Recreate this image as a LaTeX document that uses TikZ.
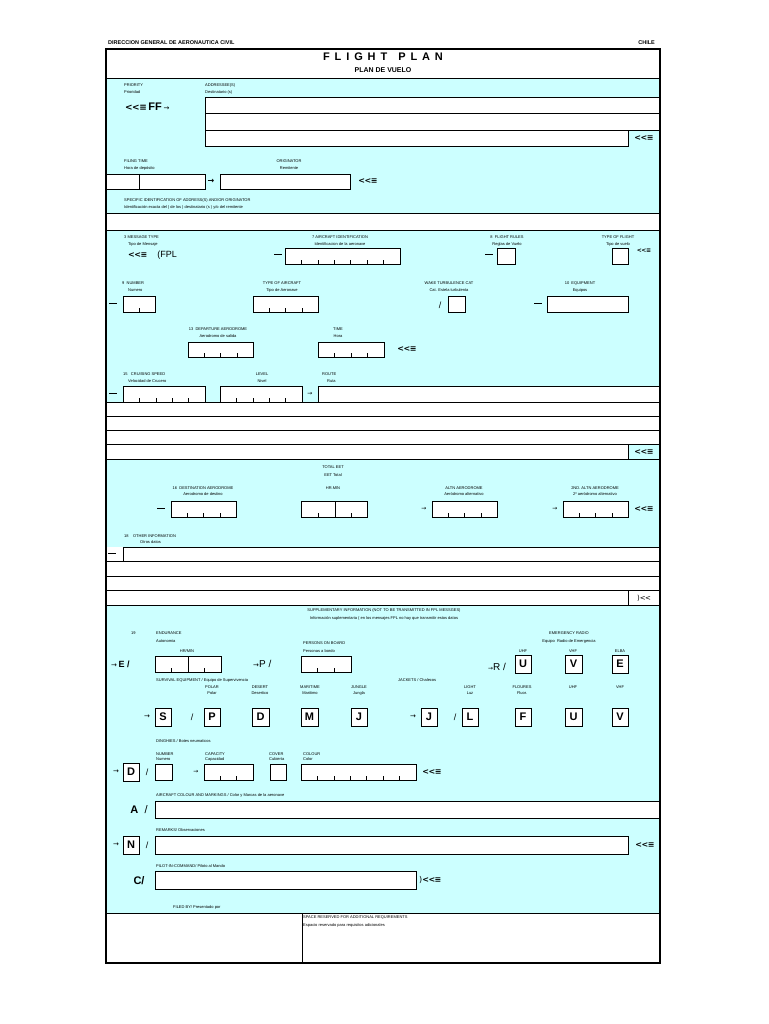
\documentclass[tikz,border=0pt]{standalone}
\usepackage{fontspec}
\setmainfont{Liberation Sans}
\newfontfamily\symf{DejaVu Sans}
\definecolor{cy}{HTML}{CCFFFF}
\tikzset{
 lab/.style={inner sep=0pt,font=\fontsize{4.6}{5}\selectfont},
 sub/.style={inner sep=0pt,font=\fontsize{4}{5}\selectfont},
 big/.style={inner sep=0pt,font=\fontsize{11}{12}\selectfont\bfseries},
 mid/.style={inner sep=0pt,font=\fontsize{9}{10}\selectfont},
 sym/.style={inner sep=0pt,font=\symf\fontsize{8}{9}\selectfont\bfseries},
 wbox/.style={draw,fill=white,line width=0.7pt},
}
\newcommand\ebox[5]{\draw[wbox] (#1,#2) rectangle (#3,#4);
 \ifnum#5>1 \foreach \i in {2,...,#5}{\draw[line width=0.5pt] ({#1+(#3-#1)*(\i-1)/#5},#4) -- ++(0,-4);}\fi}
\newcommand\lbox[5]{\draw[wbox] (#1,#2) rectangle (#3,#4);
 \node[big] at ({(#1+#3)/2},{(#2+#4)/2}) {#5};}
\newcommand\rt{{\symf\bfseries <\kern-0.5pt<\kern-0.5pt≡}}
\newcommand\dsh{\rule[2.5pt]{8pt}{1pt}}
\begin{document}
\begin{tikzpicture}[x=1pt,y=-1pt]
\useasboundingbox (0,0) rectangle (768,1024);
\fill[white] (0,0) rectangle (768,1024);
% backgrounds
\fill[cy] (106,78) rectangle (660,213);
\fill[cy] (106,230) rectangle (660,402);
\fill[cy] (628,444) rectangle (660,459);
\fill[cy] (106,459) rectangle (660,547);
\fill[cy] (106,605) rectangle (660,913);
% header
\node[lab,anchor=west,font=\fontsize{5.5}{6}\selectfont\bfseries] (hd) at (108,43) {DIRECCION GENERAL DE AERONAUTICA CIVIL};
\node[lab,anchor=east,font=\fontsize{5.5}{6}\selectfont\bfseries] (ch) at (655,43) {CHILE};
\node[inner sep=0pt,font=\fontsize{11}{12}\selectfont\bfseries] (t1) at (383,57) {F\ \,L\ \,I\ \,G\ \,H\ \,T\quad P\ \,L\ \,A\ \,N};
\node[inner sep=0pt,font=\fontsize{7}{8}\selectfont\bfseries] (t2) at (383,70) {PLAN DE VUELO};
% horizontal separators
\draw[line width=0.9pt] (106,78) -- (660,78);
\draw[line width=0.9pt] (106,213) -- (660,213) (106,230) -- (660,230);
\draw[line width=0.9pt] (106,459) -- (660,459);
\draw[line width=0.9pt] (106,605) -- (660,605);
\draw[line width=0.9pt] (106,913) -- (660,913);
\draw[line width=0.9pt] (302,913) -- (302,963);
% Section 1
\node[sub,anchor=west] at (124,85) {PRIORITY};
\node[sub,anchor=west] at (124,92) {Prioridad};
\node[anchor=west,inner sep=0pt] at (125,107) {{\fontsize{9}{10}\selectfont\rt}\,{\fontsize{11}{12}\selectfont\bfseries FF}\,{\symf\fontsize{7}{8}\selectfont →}};
\node[sub,anchor=west] at (205,85) {ADDRESSEE(S)};
\node[sub,anchor=west] at (205,92) {Destinatario (s)};
\draw[wbox] (205,97) rectangle (660,113);
\draw[wbox] (205,113) rectangle (660,130);
\draw[wbox] (205,130) rectangle (628,146);
\node[sym] at (644,138) {\rt};
\node[sub,anchor=west] at (124,161) {FILING TIME};
\node[sub,anchor=west] at (124,168) {Hora de depósito};
\draw[wbox] (106,174) rectangle (205,189);
\draw[line width=0.7pt] (139,174) -- (139,189);
\node[sym] at (211,181) {→};
\node[sub] at (289,161) {ORIGINATOR};
\node[sub] at (289,168) {Remitente};
\draw[wbox] (220,174) rectangle (350,189);
\node[sym] at (368,181) {\rt};
\node[sub,anchor=west] at (124,200) {SPECIFIC IDENTIFICATION OF ADDRESS(S) AND/OR ORIGINATOR};
\node[sub,anchor=west] at (124,207) {Identificación exacta del ( de los ) destinatario (s ) y/o del remitente};
% Section 2
\node[sub,anchor=west] at (124,237) {3 MESSAGE TYPE};
\node[sub,anchor=west] at (128,244) {Tipo de Mensaje};
\node[anchor=west,inner sep=0pt] at (128,255) {{\fontsize{8}{9}\selectfont\rt}\quad{\fontsize{9}{10}\selectfont (FPL}};
\node[sub] at (340,237) {7 AIRCRAFT IDENTIFICATION};
\node[sub] at (340,244) {Identificacion de la aeronave};
\node[mid] at (278,256) {\dsh};
\ebox{285}{248}{400}{264}{7}
\node[sub] at (507,237) {8\ \ FLIGHT RULES};
\node[sub] at (507,244) {Reglas de Vuelo};
\node[mid] at (489,256) {\dsh};
\ebox{497}{248}{515}{264}{1}
\node[sub] at (618,237) {TYPE OF FLIGHT};
\node[sub] at (618,244) {Tipo de vuelo};
\ebox{612}{248}{628}{264}{1}
\node[sym,font=\symf\fontsize{6}{7}\selectfont] at (644,251) {\rt};
\node[sub,anchor=west] at (122,283) {9\ \ NUMBER};
\node[sub,anchor=west] at (128,290) {Numero};
\node[mid] at (113,305) {\dsh};
\ebox{123}{296}{155}{312}{2}
\node[sub] at (282,283) {TYPE OF AIRCRAFT};
\node[sub] at (282,290) {Tipo de Aeronave};
\ebox{253}{296}{318}{312}{4}
\node[sub] at (449,283) {WAKE TURBULENCE CAT};
\node[sub] at (449,290) {Cat. Estela turbulenta};
\node[mid] at (440,305) {/};
\ebox{448}{296}{465}{312}{1}
\node[sub] at (580,283) {10\ \ EQUIPMENT};
\node[sub] at (580,290) {Equipos};
\node[mid] at (538,305) {\dsh};
\ebox{547}{296}{628}{312}{1}
\node[sub] at (218,329) {13\ \ DEPARTURE AERODROME};
\node[sub] at (218,336) {Aerodromo de salida};
\ebox{188}{342}{253}{357}{4}
\node[sub] at (338,329) {TIME};
\node[sub] at (338,336) {Hora};
\ebox{318}{342}{384}{357}{4}
\node[sym] at (407,349) {\rt};
\node[sub,anchor=west] at (123,374) {15\ \ \ CRUISING SPEED};
\node[sub,anchor=west] at (128,381) {Velocidad de Crucero};
\node[sub] at (262,374) {LEVEL};
\node[sub] at (262,381) {Nivel};
\node[sub,anchor=west] at (322,374) {ROUTE};
\node[sub,anchor=west] at (327,381) {Ruta};
\node[mid] at (113,395) {\dsh};
\ebox{123}{386}{205}{402}{5}
\ebox{220}{386}{302}{402}{5}
\node[sym,font=\symf\fontsize{6}{7}\selectfont] at (310,394) {→};
\draw[wbox] (318,386) rectangle (660,402);
\draw[wbox] (106,402) rectangle (660,416);
\draw[wbox] (106,416) rectangle (660,430);
\draw[wbox] (106,430) rectangle (660,444);
\draw[wbox] (106,444) rectangle (628,459);
\node[sym] at (644,452) {\rt};
% Section 3
\node[sub] at (333,467) {TOTAL EET};
\node[sub] at (333,475) {EET Total};
\node[sub] at (203,488) {16\ \ DESTINATION AERODROME};
\node[sub] at (203,494) {Aerodromo de destino};
\node[mid] at (161,510) {\dsh};
\ebox{171}{501}{236}{517}{4}
\node[sub] at (333,488) {HR.MIN};
\ebox{301}{501}{335}{517}{2}
\ebox{335}{501}{367}{517}{2}
\node[sub] at (464,488) {ALTN AERODROME};
\node[sub] at (464,494) {Aeródromo alternativo};
\node[sym,font=\symf\fontsize{6}{7}\selectfont] at (424,509) {→};
\ebox{432}{501}{497}{517}{4}
\node[sub] at (595,488) {2ND. ALTN AERODROME};
\node[sub] at (595,494) {2º aeródromo alternativo};
\node[sym,font=\symf\fontsize{6}{7}\selectfont] at (555,509) {→};
\ebox{563}{501}{628}{517}{4}
\node[sym] at (644,509) {\rt};
\node[sub,anchor=west] at (124,536) {18\ \ \ \ OTHER INFORMATION};
\node[sub,anchor=west] at (140,542) {Otros datos};
\node[mid] at (112,555) {\dsh};
\draw[wbox] (123,547) rectangle (660,561);
\draw[wbox] (106,561) rectangle (660,576);
\draw[wbox] (106,576) rectangle (660,590);
\draw[wbox] (106,590) rectangle (660,605);
\draw[line width=0.7pt] (628,590) -- (628,605);
\node[inner sep=0pt,font=\symf\fontsize{7}{8}\selectfont] at (644,598) {)<\kern-0.5pt<};
% Section 4
\node[sub] at (384,610) {SUPPLEMENTARY INFORMATION (NOT TO BE TRANSMITTED IN FPL MESSGES)};
\node[sub] at (384,618) {Información suplementaria ( en los mensajes FPL no hay que transmitir estos datos};
\node[sub,anchor=west] at (131,633) {19};
\node[sub,anchor=west] at (156,633) {ENDURANCE};
\node[sub,anchor=west] at (156,641) {Autonomia};
\node[sub] at (187,651) {HR/MIN};
\node[anchor=west,inner sep=0pt] at (111,664) {{\symf\fontsize{7}{8}\selectfont →}\,{\fontsize{9}{10}\selectfont\bfseries E /}};
\ebox{155}{656}{188}{672}{2}
\ebox{188}{656}{221}{672}{2}
\node[anchor=west,inner sep=0pt] at (253,664) {{\symf\fontsize{7}{8}\selectfont →}{\fontsize{10}{11}\selectfont P /}};
\node[sub,anchor=west] at (303,643) {PERSONS ON BOARD};
\node[sub,anchor=west] at (303,651) {Personas a bordo};
\ebox{301}{656}{351}{672}{3}
\node[sub] at (569,633) {EMERGENCY RADIO};
\node[sub] at (569,641) {Equipo\ \ Radio de Emergencia};
\node[sub] at (523,651) {UHF};
\node[sub] at (573,651) {VHF};
\node[sub] at (620,651) {ELBA};
\node[anchor=east,inner sep=0pt] at (506,667) {{\symf\fontsize{6}{7}\selectfont →}{\fontsize{10}{11}\selectfont R /}};
\lbox{515}{655}{531}{673}{U}
\lbox{565}{655}{582}{673}{V}
\lbox{612}{655}{628}{673}{E}
\node[sub,anchor=west] at (156,680) {SURVIVAL EQUIPMENT / Equipo de Supervivencia};
\node[sub] at (212,687) {POLAR};
\node[sub] at (212,693) {Polar};
\node[sub] at (260,687) {DESERT};
\node[sub] at (260,693) {Desertico};
\node[sub] at (310,687) {MARITIME};
\node[sub] at (310,693) {Maritimo};
\node[sub] at (359,687) {JUNGLE};
\node[sub] at (359,693) {Jungla};
\node[sub,anchor=west] at (398,680) {JACKETS / Chalecos};
\node[sub] at (470,687) {LIGHT};
\node[sub] at (470,693) {Luz};
\node[sub] at (522,687) {FLOURES};
\node[sub] at (522,693) {Fluor.};
\node[sub] at (573,687) {UHF};
\node[sub] at (620,687) {VHF};
\node[sym,font=\symf\fontsize{7}{8}\selectfont] at (147,717) {→};
\lbox{155}{708}{171}{726}{S}
\node[mid] at (192,717) {/};
\lbox{204}{708}{220}{726}{P}
\lbox{252}{708}{269}{726}{D}
\lbox{301}{708}{318}{726}{M}
\lbox{351}{708}{367}{726}{J}
\node[sym,font=\symf\fontsize{7}{8}\selectfont] at (413,717) {→};
\lbox{421}{708}{437}{726}{J}
\node[mid] at (455,717) {/};
\lbox{462}{708}{478}{726}{L}
\lbox{515}{708}{531}{726}{F}
\lbox{565}{708}{582}{726}{U}
\lbox{612}{708}{628}{726}{V}
\node[sub,anchor=west] at (156,741) {DINGHIES / Botes neumaticos};
\node[sub,anchor=west] at (156,754) {NUMBER};
\node[sub,anchor=west] at (156,759) {Numero};
\node[sub,anchor=west] at (205,754) {CAPACITY};
\node[sub,anchor=west] at (205,759) {Capacidad};
\node[sub,anchor=west] at (269,754) {COVER};
\node[sub,anchor=west] at (269,759) {Cubierta};
\node[sub,anchor=west] at (303,754) {COLOUR};
\node[sub,anchor=west] at (303,759) {Color};
\node[sym,font=\symf\fontsize{7}{8}\selectfont] at (116,772) {→};
\lbox{123}{763}{139}{781}{D}
\node[mid] at (147,772) {/};
\ebox{155}{764}{172}{780}{1}
\node[sym,font=\symf\fontsize{6}{7}\selectfont] at (196,772) {→};
\ebox{204}{764}{253}{780}{3}
\ebox{270}{764}{286}{780}{1}
\ebox{301}{764}{416}{780}{7}
\node[sym] at (432,772) {\rt};
\node[sub,anchor=west] at (156,795) {AIRCRAFT COLOUR AND MARKINGS / Color y Marcas de la aeronave};
\node[big] at (139,810) {A\ \ \fontseries{m}\selectfont/};
\draw[wbox] (155,801) rectangle (660,818);
\node[sub,anchor=west] at (156,830) {REMARKS/ Observaciones};
\node[sym,font=\symf\fontsize{7}{8}\selectfont] at (116,845) {→};
\lbox{123}{836}{139}{854}{N}
\node[mid] at (147,845) {/};
\draw[wbox] (155,836) rectangle (628,854);
\node[sym] at (645,845) {\rt};
\node[sub,anchor=west] at (156,866) {PILOT-IN-COMMAND/ Piloto al Mando};
\node[big] at (139,881) {C/};
\draw[wbox] (155,871) rectangle (416,889);
\node[inner sep=0pt,anchor=west,font=\fontsize{8}{9}\selectfont] at (419,880) {{\symf )}\rt};
\node[sub,anchor=west] at (173,907) {FILED BY/ Presentado por};
\node[sub,anchor=west] at (303,917) {SPACE RESERVED FOR ADDITIONAL REQUIREMENTS};
\node[sub,anchor=west] at (303,925) {Espacio reservado para requisitos adicionales};
% outer frame
\draw[line width=1.2pt] (106,49) rectangle (660,963);
\end{tikzpicture}
\end{document}
